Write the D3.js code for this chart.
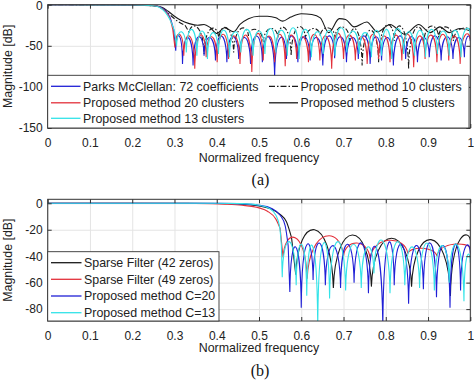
<!DOCTYPE html>
<html><head><meta charset="utf-8">
<script src="https://cdn.jsdelivr.net/npm/d3@7/dist/d3.min.js"></script>
<style>
html,body{margin:0;padding:0;background:#fff;}
svg{display:block;font-family:"Liberation Sans",Arial,sans-serif;}
</style></head>
<body><svg id="c" width="474" height="381"></svg>
<script>
// ---------- shared ticks ----------
const xTicks = [0,0.1,0.2,0.3,0.4,0.5,0.6,0.7,0.8,0.9,1];
const xTickLabels = ["0","0.1","0.2","0.3","0.4","0.5","0.6","0.7","0.8","0.9","1"];
const aYTicks = [0,-50,-100,-150];
const aYTickLabels = ["0","-50","-100","-150"];
const bYTicks = [0,-20,-40,-60,-80];
const bYTickLabels = ["0","-20","-40","-60","-80"];

// ---------- (a) data ----------
const aNames = ["Parks McClellan: 72 coefficients","Proposed method 20 clusters","Proposed method 13 clusters","Proposed method 10 clusters","Proposed method 5 clusters"];

const aPMSmooth = [[0,0],[0.1,-0.1],[0.2,-0.3],[0.25,-0.9],[0.265,-2.5],[0.278,-7],[0.29,-16],[0.298,-30]];
const aPMNulls = [[0.303,-56],[0.319,-72],[0.344,-74],[0.370,-62],[0.397,-68],[0.424,-70],[0.452,-66],[0.480,-72],[0.508,-70],[0.537,-88],[0.565,-66],[0.592,-70],[0.621,-68],[0.651,-74],[0.679,-65],[0.707,-70],[0.735,-66],[0.763,-72],[0.790,-68],[0.818,-74],[0.847,-66],[0.875,-70],[0.903,-64],[0.931,-68],[0.959,-66],[0.986,-64],[1.0,-44]];
const aPMPeaks = [-38,-40,-39,-40,-38,-39,-40,-38,-39,-40,-38,-39,-40,-38,-39,-40,-38,-39,-40,-38,-39,-40,-38,-39,-40,-39];

const aC20Smooth = [[0,0],[0.1,-0.2],[0.2,-0.4],[0.25,-1],[0.265,-3],[0.278,-8],[0.29,-18],[0.296,-30]];
const aC20Nulls = [[0.301,-52],[0.322,-62],[0.348,-78],[0.375,-64],[0.401,-70],[0.428,-66],[0.455,-72],[0.483,-82],[0.510,-68],[0.537,-70],[0.562,-75],[0.589,-66],[0.617,-70],[0.644,-68],[0.672,-78],[0.700,-66],[0.728,-68],[0.756,-72],[0.783,-66],[0.810,-70],[0.838,-68],[0.866,-76],[0.893,-66],[0.921,-70],[0.949,-68],[0.976,-72],[1.0,-42]];
const aC20Peaks = [-36,-38,-37,-39,-36,-38,-37,-35,-38,-36,-37,-39,-36,-38,-35,-37,-39,-36,-38,-37,-36,-38,-37,-36,-38,-37];

const aC13Smooth = [[0,0],[0.1,-0.2],[0.2,-0.4],[0.25,-1.2],[0.265,-3.5],[0.278,-9],[0.29,-19],[0.3,-32]];
const aC13Nulls = [[0.305,-50],[0.328,-58],[0.353,-62],[0.378,-66],[0.404,-60],[0.430,-64],[0.457,-58],[0.486,-62],[0.514,-60],[0.540,-58],[0.567,-62],[0.595,-66],[0.624,-64],[0.652,-60],[0.680,-62],[0.708,-58],[0.737,-60],[0.766,-64],[0.790,-62],[0.814,-66],[0.842,-60],[0.868,-62],[0.894,-64],[0.922,-60],[0.950,-62],[0.978,-64],[1.0,-36]];
const aC13Peaks = [-33,-30,-32,-34,-31,-33,-30,-32,-29,-31,-28,-30,-33,-31,-28,-32,-34,-31,-30,-29,-33,-31,-30,-32,-31,-30];

const aC10Smooth = [[0,0],[0.1,-0.3],[0.2,-0.6],[0.25,-1.3],[0.265,-3],[0.28,-8],[0.295,-15],[0.31,-21],[0.325,-25]];
const aC10Nulls = [[0.335,-34],[0.370,-60],[0.405,-42],[0.440,-58],[0.475,-38],[0.510,-46],[0.545,-40],[0.576,-62],[0.610,-42],[0.645,-38],[0.680,-40],[0.715,-44],[0.744,-74],[0.783,-70],[0.820,-44],[0.854,-78],[0.890,-46],[0.925,-40],[0.960,-44],[1.0,-31]];
const aC10Peaks = [-27,-29,-28,-29,-30,-29,-28,-27,-29,-28,-27,-30,-31,-25,-27,-28,-26,-27,-29];

const aC5Points = [[0,0],[0.1,-0.3],[0.2,-0.6],[0.25,-1.2],[0.27,-3],[0.285,-8],[0.3,-14],[0.315,-19],[0.335,-23],[0.355,-25],[0.37,-24],[0.385,-28],[0.4,-35],[0.418,-28],[0.44,-33],[0.455,-24],[0.475,-17],[0.5,-14],[0.52,-14],[0.54,-16],[0.556,-20],[0.575,-15],[0.6,-11],[0.625,-12],[0.645,-16],[0.665,-34],[0.69,-17],[0.705,-18],[0.725,-27],[0.755,-21],[0.78,-33],[0.81,-24],[0.845,-36],[0.878,-24],[0.905,-34],[0.928,-27],[0.95,-34],[0.975,-29],[1.0,-32]];

// ---------- (b) data ----------
const bNames = ["Sparse Filter (42 zeros)","Sparse Filter (49 zeros)","Proposed method C=20","Proposed method C=13"];

const bS42Smooth = [[0,0],[0.1,0],[0.2,0],[0.3,0],[0.4,-0.2],[0.45,-0.6],[0.5,-2],[0.53,-4.5],[0.55,-8.5],[0.565,-14],[0.577,-26]];
const bS42Nulls = [[0.587,-54],[0.676,-64],[0.766,-63],[0.861,-63],[0.953,-70],[1.0,-28]];
const bS42Peaks = [-20,-24,-26.5,-27.5,-27];

const bS49Smooth = [[0,0],[0.2,0],[0.35,-0.2],[0.42,-0.7],[0.46,-1.5],[0.5,-3.5],[0.52,-6],[0.54,-12],[0.55,-19]];
const bS49Nulls = [[0.557,-41],[0.614,-57],[0.700,-40],[0.763,-42],[0.852,-38],[0.921,-40],[1.0,-34]];
const bS49Peaks = [-26,-25,-30,-28,-34,-31];

const bC20Smooth = [[0,0],[0.2,0],[0.4,0],[0.45,-0.3],[0.5,-1.5],[0.53,-4],[0.55,-9],[0.562,-17],[0.569,-32]];
const bC20Nulls = [[0.573,-67],[0.600,-79],[0.628,-58],[0.657,-62],[0.693,-64],[0.725,-60],[0.759,-68],[0.793,-95],[0.820,-62],[0.854,-76],[0.889,-65],[0.920,-71],[0.952,-79],[0.977,-66],[1.0,-38]];
const bC20Peaks = [-33,-31,-30,-32,-31,-30,-33,-30,-31,-32,-30,-32,-31,-33];

const bC13Smooth = [[0,0],[0.2,0],[0.4,0],[0.46,-0.3],[0.5,-1.5],[0.525,-4],[0.54,-9],[0.549,-18],[0.553,-32]];
const bC13Nulls = [[0.555,-56],[0.588,-62],[0.613,-70],[0.639,-95],[0.667,-72],[0.705,-66],[0.742,-64],[0.772,-53],[0.810,-68],[0.845,-62],[0.880,-64],[0.915,-66],[0.950,-60],[0.985,-74],[1.0,-45]];
const bC13Peaks = [-29,-31,-32,-30,-29,-31,-33,-28,-29,-33,-30,-32,-31,-40];

// ---------- styles ----------
const BLUE = "#1f1fd6", RED = "#e3303a", CYAN = "#33e3e8", BLACK = "#1a1a1a";
const FONT = 12, LABEL_FONT = 12.4, LEGEND_FONT = 12.4;

const svg = d3.select("#c");

function lobePath(x, y, smooth, nulls, peaks) {
  const line = d3.line().x(p => x(p[0])).y(p => y(p[1])).curve(d3.curveMonotoneX);
  let d = line(smooth);
  const p = d3.path();
  const last = smooth[smooth.length - 1];
  p.moveTo(x(last[0]), y(last[1]));
  p.lineTo(x(nulls[0][0]), y(nulls[0][1]));
  for (let i = 0; i < peaks.length; i++) {
    const x0 = x(nulls[i][0]), y0 = y(nulls[i][1]);
    const x3 = x(nulls[i + 1][0]), y3 = y(nulls[i + 1][1]);
    const yp = y(peaks[i]);
    const w = x3 - x0;
    const c = (yp - (y0 + y3) / 8) / 0.75;
    p.bezierCurveTo(x0 + 0.06 * w, c, x3 - 0.06 * w, c, x3, y3);
  }
  return d + p.toString();
}

function axesFrame(g, x, y, yTicks, id) {
  const [l, r] = x.range();
  const [b, t] = y.range();
  const w = r - l, h = b - t;
  g.append("g").attr("transform", `translate(0,${b})`)
    .call(d3.axisBottom(x).tickValues(xTicks).tickSize(-h).tickFormat(""))
    .call(s => { s.select(".domain").remove(); s.selectAll("line").attr("stroke", "#e4e4e4").attr("stroke-width", 1); });
  g.append("g").attr("transform", `translate(${l},0)`)
    .call(d3.axisLeft(y).tickValues(yTicks).tickSize(-w).tickFormat(""))
    .call(s => { s.select(".domain").remove(); s.selectAll("line").attr("stroke", "#e4e4e4").attr("stroke-width", 1); });
  svg.append("clipPath").attr("id", id).append("rect").attr("x", l).attr("y", t).attr("width", w).attr("height", h);
}

function axesTicks(g, x, y, yTicks, yLabels) {
  const [l, r] = x.range();
  const [b, t] = y.range();
  const style = s => {
    s.select(".domain").remove();
    s.selectAll("line").attr("stroke", "#333");
    s.selectAll("text").attr("fill", "#222").style("font-size", FONT + "px").style("font-family", '"Liberation Sans",Arial,sans-serif');
  };
  g.append("g").attr("transform", `translate(0,${b})`)
    .call(d3.axisBottom(x).tickValues(xTicks).tickSize(-4).tickPadding(10).tickFormat((d, i) => xTickLabels[i])).call(style);
  g.append("g").attr("transform", `translate(0,${t})`)
    .call(d3.axisTop(x).tickValues(xTicks).tickSize(-4).tickFormat("")).call(style);
  const yl = g.append("g").attr("transform", `translate(${l},0)`)
    .call(d3.axisLeft(y).tickValues(yTicks).tickSize(-4).tickPadding(5).tickFormat((d, i) => yLabels[i])).call(style);
  // keep the top label fully inside the canvas
  yl.selectAll("text").filter(function () {
    const ty = y(d3.select(this).datum());
    return ty < 6;
  }).attr("dy", "0.4em");
  g.append("g").attr("transform", `translate(${r},0)`)
    .call(d3.axisRight(y).tickValues(yTicks).tickSize(-4).tickFormat("")).call(style);
  g.append("rect").attr("x", l).attr("y", t).attr("width", r - l).attr("height", b - t)
    .attr("fill", "none").attr("stroke", "#333").attr("stroke-width", 1);
}

function drawSeries(g, id, d, color, dash) {
  g.append("path").attr("d", d).attr("fill", "none").attr("stroke", color)
    .attr("stroke-width", 1.1).attr("clip-path", `url(#${id})`)
    .attr("stroke-dasharray", dash || null);
}

function legendEntry(g, x0, x1, yy, color, dash, label) {
  g.append("line").attr("x1", x0).attr("x2", x1).attr("y1", yy).attr("y2", yy)
    .attr("stroke", color).attr("stroke-width", 1.3).attr("stroke-dasharray", dash || null);
  g.append("text").attr("x", x1 + 2.5).attr("y", yy).attr("dy", "0.36em")
    .style("font-size", LEGEND_FONT + "px").attr("fill", "#222").text(label);
}

// ================= (a) =================
{
  const x = d3.scaleLinear().domain([0, 1]).range([47.7, 470.3]);
  const y = d3.scaleLinear().domain([-150, 0]).range([128, 4.7]);
  const g = svg.append("g");
  axesFrame(g, x, y, aYTicks, "clipA");
  const curve = d3.line().x(p => x(p[0])).y(p => y(p[1])).curve(d3.curveMonotoneX);
  drawSeries(g, "clipA", curve(aC5Points), BLACK);
  drawSeries(g, "clipA", lobePath(x, y, aC10Smooth, aC10Nulls, aC10Peaks), BLACK, "5,2,1.5,2");
  drawSeries(g, "clipA", lobePath(x, y, aPMSmooth, aPMNulls, aPMPeaks), BLUE);
  drawSeries(g, "clipA", lobePath(x, y, aC20Smooth, aC20Nulls, aC20Peaks), RED);
  drawSeries(g, "clipA", lobePath(x, y, aC13Smooth, aC13Nulls, aC13Peaks), CYAN);
  axesTicks(g, x, y, aYTicks, aYTickLabels);
  const lg = g.append("g");
  lg.append("rect").attr("x", 47.7).attr("y", 75.3).attr("width", 421.3).attr("height", 52.7)
    .attr("fill", "#fff").attr("stroke", "#333").attr("stroke-width", 0.9);
  legendEntry(lg, 51, 80.5, 86.3, BLUE, null, aNames[0]);
  legendEntry(lg, 51, 80.5, 102.8, RED, null, aNames[1]);
  legendEntry(lg, 51, 80.5, 118.3, CYAN, null, aNames[2]);
  legendEntry(lg, 269, 298, 86.3, BLACK, "6,2,1.5,2", aNames[3]);
  legendEntry(lg, 269, 298, 102.8, BLACK, null, aNames[4]);
  g.append("text").attr("x", 259).attr("y", 162).attr("text-anchor", "middle")
    .style("font-size", LABEL_FONT + "px").attr("fill", "#222").text("Normalized frequency");
  g.append("text").attr("transform", `translate(12,${(128 + 4.7) / 2}) rotate(-90)`).attr("text-anchor", "middle")
    .style("font-size", LABEL_FONT + "px").attr("fill", "#222").text("Magnitude [dB]");
  g.append("text").attr("x", 260.5).attr("y", 184.5).attr("text-anchor", "middle")
    .style("font-family", '"Liberation Serif","Times New Roman",serif').style("font-size", "16px").attr("fill", "#111").text("(a)");
}

// ================= (b) =================
{
  const x = d3.scaleLinear().domain([0, 1]).range([47.7, 470.3]);
  const y = d3.scaleLinear().domain([-89, 3]).range([321, 199.3]);
  const g = svg.append("g");
  axesFrame(g, x, y, bYTicks, "clipB");
  drawSeries(g, "clipB", lobePath(x, y, bS42Smooth, bS42Nulls, bS42Peaks), BLACK);
  drawSeries(g, "clipB", lobePath(x, y, bS49Smooth, bS49Nulls, bS49Peaks), RED);
  drawSeries(g, "clipB", lobePath(x, y, bC20Smooth, bC20Nulls, bC20Peaks), BLUE);
  drawSeries(g, "clipB", lobePath(x, y, bC13Smooth, bC13Nulls, bC13Peaks), CYAN);
  axesTicks(g, x, y, bYTicks, bYTickLabels);
  const lg = g.append("g");
  lg.append("rect").attr("x", 47.7).attr("y", 251.7).attr("width", 171.3).attr("height", 69.3)
    .attr("fill", "#fff").attr("stroke", "#333").attr("stroke-width", 0.9);
  legendEntry(lg, 51, 81.5, 262.7, BLACK, null, bNames[0]);
  legendEntry(lg, 51, 81.5, 279.3, RED, null, bNames[1]);
  legendEntry(lg, 51, 81.5, 296, BLUE, null, bNames[2]);
  legendEntry(lg, 51, 81.5, 312.7, CYAN, null, bNames[3]);
  g.append("text").attr("x", 259).attr("y", 352).attr("text-anchor", "middle")
    .style("font-size", LABEL_FONT + "px").attr("fill", "#222").text("Normalized frequency");
  g.append("text").attr("transform", `translate(12,${(321 + 199.3) / 2}) rotate(-90)`).attr("text-anchor", "middle")
    .style("font-size", LABEL_FONT + "px").attr("fill", "#222").text("Magnitude [dB]");
  g.append("text").attr("x", 260).attr("y", 375.5).attr("text-anchor", "middle")
    .style("font-family", '"Liberation Serif","Times New Roman",serif').style("font-size", "16px").attr("fill", "#111").text("(b)");
}
</script></body></html>
